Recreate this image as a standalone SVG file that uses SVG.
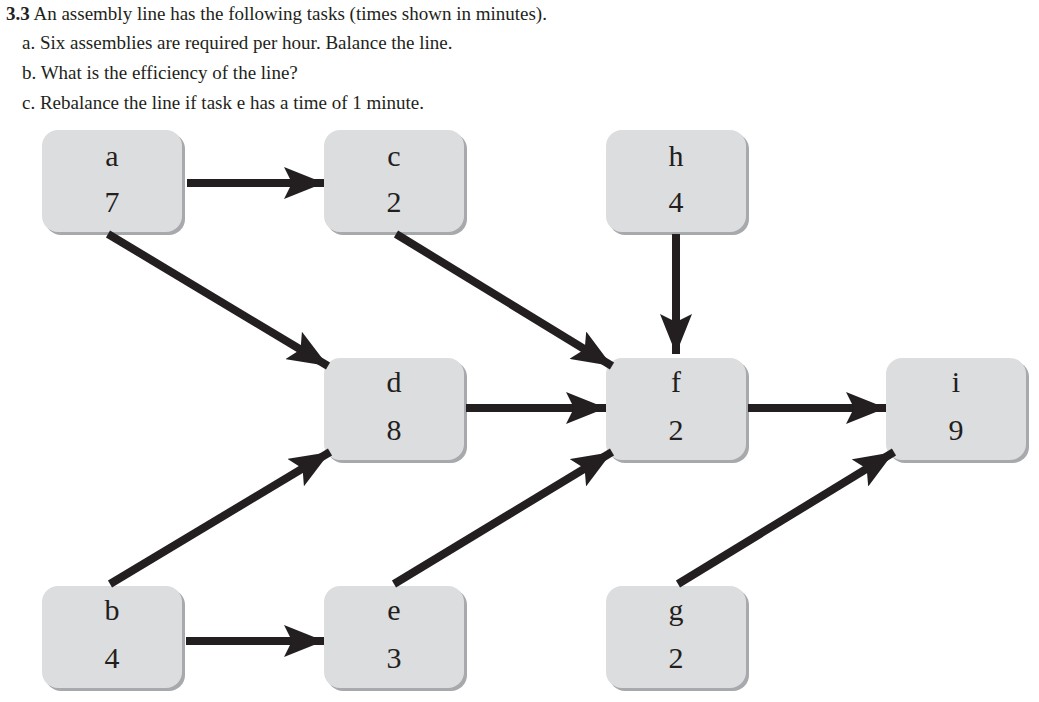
<svg xmlns="http://www.w3.org/2000/svg" width="1039" height="702" viewBox="0 0 1039 702">
<defs>
<marker id="ah" markerUnits="strokeWidth" markerWidth="5" markerHeight="4" refX="5" refY="2" orient="auto">
<path d="M0,0 L5,2 L0,4 L1,2 Z" fill="#231f20"/>
</marker>
<style>
.sh{fill:#a7a9ac}
.bx{fill:#dcdddf}
.t{font-family:"Liberation Serif",serif;font-size:30px;fill:#231f20;text-anchor:middle}
.h{font-family:"Liberation Serif",serif;font-size:19px;fill:#231f20}
.c line{stroke:#231f20;stroke-width:8;marker-end:url(#ah)}
</style>
</defs>
<rect width="1039" height="702" fill="#fff"/>
<text class="h" x="6" y="20"><tspan font-weight="bold">3.3</tspan> An assembly line has the following tasks (times shown in minutes).</text>
<text class="h" x="22" y="49">a. Six assemblies are required per hour. Balance the line.</text>
<text class="h" x="22" y="79">b. What is the efficiency of the line?</text>
<text class="h" x="22" y="109">c. Rebalance the line if task e has a time of 1 minute.</text>
<g id="a"><rect class="sh" x="45" y="133" width="140" height="102" rx="16"/><rect class="bx" x="42" y="130" width="140" height="102" rx="16"/><text class="t" x="112" y="166">a</text><text class="t" x="112" y="212">7</text></g>
<g id="c"><rect class="sh" x="327" y="133" width="140" height="102" rx="16"/><rect class="bx" x="324" y="130" width="140" height="102" rx="16"/><text class="t" x="394" y="166">c</text><text class="t" x="394" y="212">2</text></g>
<g id="h"><rect class="sh" x="609" y="133" width="140" height="102" rx="16"/><rect class="bx" x="606" y="130" width="140" height="102" rx="16"/><text class="t" x="676" y="166">h</text><text class="t" x="676" y="212">4</text></g>
<g id="d"><rect class="sh" x="327" y="361" width="140" height="102" rx="16"/><rect class="bx" x="324" y="358" width="140" height="102" rx="16"/><text class="t" x="394" y="392">d</text><text class="t" x="394" y="440">8</text></g>
<g id="f"><rect class="sh" x="609" y="361" width="140" height="102" rx="16"/><rect class="bx" x="606" y="358" width="140" height="102" rx="16"/><text class="t" x="676" y="392">f</text><text class="t" x="676" y="440">2</text></g>
<g id="i"><rect class="sh" x="889" y="361" width="140" height="102" rx="16"/><rect class="bx" x="886" y="358" width="140" height="102" rx="16"/><text class="t" x="956" y="392">i</text><text class="t" x="956" y="440">9</text></g>
<g id="b"><rect class="sh" x="45" y="589" width="140" height="102" rx="16"/><rect class="bx" x="42" y="586" width="140" height="102" rx="16"/><text class="t" x="112" y="620">b</text><text class="t" x="112" y="668">4</text></g>
<g id="e"><rect class="sh" x="327" y="589" width="140" height="102" rx="16"/><rect class="bx" x="324" y="586" width="140" height="102" rx="16"/><text class="t" x="394" y="620">e</text><text class="t" x="394" y="668">3</text></g>
<g id="g"><rect class="sh" x="609" y="589" width="140" height="102" rx="16"/><rect class="bx" x="606" y="586" width="140" height="102" rx="16"/><text class="t" x="676" y="620">g</text><text class="t" x="676" y="668">2</text></g>
<g class="c" id="connectors">
<line x1="187" y1="183" x2="324" y2="183"/>
<line x1="108" y1="234" x2="328" y2="366"/>
<line x1="396" y1="234" x2="612" y2="366"/>
<line x1="676" y1="234" x2="676" y2="354"/>
<line x1="466" y1="408" x2="606" y2="408"/>
<line x1="748" y1="408" x2="886" y2="408"/>
<line x1="110" y1="584" x2="330" y2="452"/>
<line x1="394" y1="584" x2="612" y2="452"/>
<line x1="678" y1="584" x2="894" y2="452"/>
<line x1="186" y1="641" x2="324" y2="641"/>
</g>
</svg>
